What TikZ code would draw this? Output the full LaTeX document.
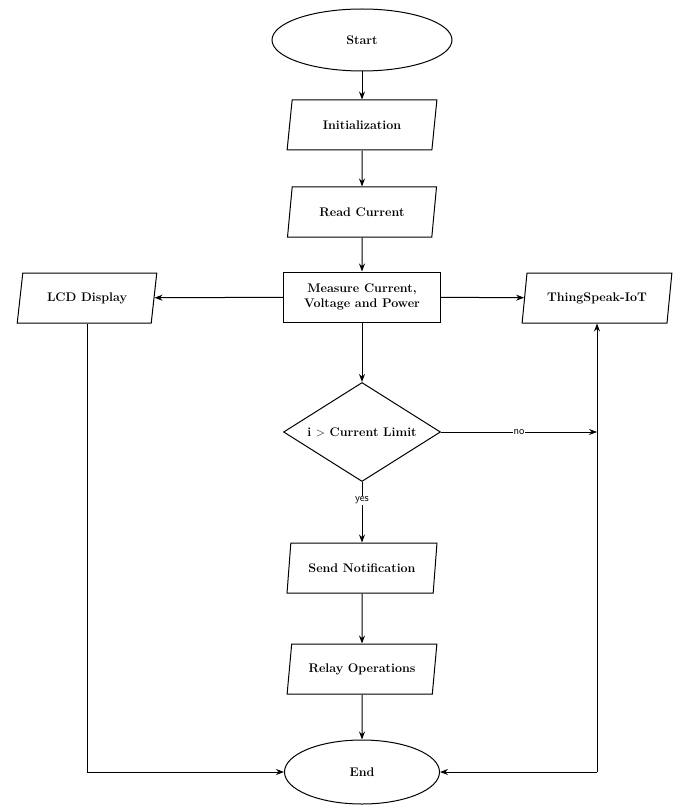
\documentclass[tikz,border=0pt]{standalone}
\usepackage{tikz}
\usetikzlibrary{shapes.geometric,arrows.meta}
\newcommand{\boxfont}{\fontsize{12.5}{15}\selectfont\bfseries}
\tikzset{
	every picture/.style={line width=1pt},
	io/.style={draw, trapezium, trapezium left angle=75, trapezium right angle=105, trapezium stretches=true, minimum width=150pt, minimum height=50pt, font=\boxfont, align=center, inner sep=1pt},
	term/.style={draw, ellipse, minimum width=180pt, minimum height=62pt, font=\boxfont},
	proc/.style={draw, rectangle, minimum width=157pt, minimum height=50pt, font=\boxfont, align=center},
	dec/.style={draw, diamond, aspect=1.6, minimum width=157pt, minimum height=99pt, font=\boxfont, inner sep=0pt},
	flow/.style={-{Stealth[length=8pt]}},
	lbl/.style={font=\sffamily\fontsize{11}{13}\selectfont, fill=white, inner sep=1pt}
}
\begin{document}
	\begin{tikzpicture}[x=1pt, y=-1pt]
		\useasboundingbox (0,0) rectangle (685,810);
		\node[term] (start) at (362,40) {Start};
		\node[io] (init) at (362,125) {Initialization};
		\node[io] (read) at (362,212) {Read Current};
		\node[proc] (meas) at (362,297) {Measure Current,\\Voltage and Power};
		\node[io, minimum width=140pt] (lcd) at (87,298) {LCD Display};
		\node[io] (iot) at (597,298) {ThingSpeak-IoT};
		\node[dec] (lim) at (362,432) {i $>$ Current Limit};
		\node[io] (notif) at (362,568) {Send Notification};
		\node[io] (relay) at (362,669) {Relay Operations};
		\node[term, minimum width=155pt, minimum height=64pt] (end) at (362,772) {End};
		\coordinate (nojoin) at (597,432);
		\coordinate (lcdbot) at (87,772);
		\coordinate (iotbot) at (597,772);
		\draw[flow] (start) -- (init);
		\draw[flow] (init) -- (read);
		\draw[flow] (read) -- (meas);
		\draw[flow] (meas) -- (lcd);
		\draw[flow] (meas) -- (iot);
		\draw[flow] (meas) -- (lim);
		\draw[flow] (lim) -- node[lbl, pos=0.3]{yes} (notif);
		\draw[flow] (notif) -- (relay);
		\draw[flow] (relay) -- (end);
		\draw[flow] (lim) -- node[lbl, pos=0.5]{no} (nojoin);
		\draw[flow] (lcd.south -| lcdbot) -- (lcdbot) -- (end);
		\draw[flow] (iotbot) -- (iot.south -| iotbot);
		\draw[flow] (iotbot) -- (end);
	\end{tikzpicture}
\end{document}
